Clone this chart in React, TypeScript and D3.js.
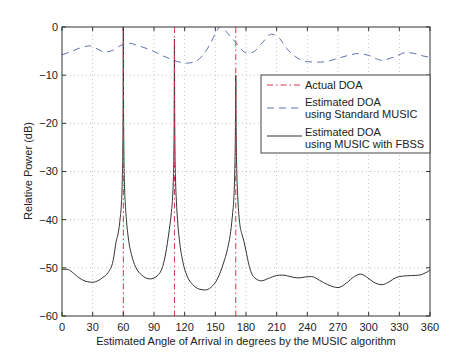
import React from "react";
import * as d3 from "d3";

// Angular spectrum, standard MUSIC (degrees, dB)
const musicAngles = [0, 10, 20, 27, 35, 42, 50, 58, 66, 75, 88, 101, 112, 122, 130, 138, 145, 151, 155, 160, 165, 170, 176, 181, 187, 195, 205, 212, 220, 230, 240, 250, 260, 270, 280, 290, 300, 313, 325, 337, 345, 353, 360];
const musicDb = [-5.8, -5.0, -4.2, -3.9, -4.6, -5.2, -4.8, -3.8, -3.4, -3.9, -4.9, -6.2, -7.1, -7.5, -7.2, -5.8, -3.5, -1.0, 0.1, -0.8, -2.0, -3.2, -4.8, -5.4, -5.2, -3.5, -1.5, -2.2, -4.5, -6.4, -7.2, -7.3, -7.1, -6.5, -5.9, -5.5, -5.9, -6.9, -6.2, -5.3, -5.5, -6.0, -6.3];

// Angular spectrum, MUSIC with forward-backward spatial smoothing (degrees, dB)
const fbssAngles = [0, 5, 10, 15, 20, 25, 30, 35, 40, 45, 50, 53, 55, 57, 58, 59, 59.5, 59.8, 60, 60.2, 60.5, 61, 62, 63, 65, 68, 72, 78, 86, 94, 100, 103, 105, 107, 108, 109, 109.5, 109.8, 110, 110.2, 110.5, 111, 112, 113, 115, 118, 122, 128, 134, 140, 146, 152, 158, 162, 165, 167, 168, 169, 169.5, 169.8, 170, 170.2, 170.5, 171, 172, 174, 176, 178, 180, 183, 188, 195, 202, 210, 216, 223, 231, 238, 244, 252, 260, 270, 278, 286, 292, 298, 305, 313, 320, 327, 334, 342, 350, 355, 360];
const fbssDb = [-50.3, -50.3, -50.9, -51.8, -52.5, -52.9, -53.0, -52.7, -52.0, -51.0, -48.5, -44.5, -42.8, -39.5, -37.0, -31.5, -25, -16, 0, -16, -25, -31.5, -37, -40, -44, -47.3, -49.8, -51.5, -52.3, -51.5, -48.5, -45, -42, -38.5, -36, -31, -25, -16, -2.5, -16, -25, -31, -36.5, -40, -44.5, -48.5, -51.5, -53.5, -54.4, -54.6, -54.0, -52.3, -49, -46, -42.5, -38.5, -36, -30, -24, -17, -10, -17, -24, -30, -35.5, -41, -43, -44.5, -46.5, -49.5, -52.0, -52.7, -52.2, -51.6, -51.5, -51.8, -52.1, -51.9, -51.8, -52.6, -53.5, -54.1, -53.2, -51.8, -51.3, -51.9, -53.0, -53.5, -52.9, -52.0, -51.7, -51.6, -51.5, -51.1, -50.5];

// True directions of arrival (degrees)
const actualDoa = [60, 110, 170];

const xTicks = [0, 30, 60, 90, 120, 150, 180, 210, 240, 270, 300, 330, 360];
const yTicks = [0, -10, -20, -30, -40, -50, -60];

const legendLabels = [["Actual DOA"], ["Estimated DOA", "using Standard MUSIC"], ["Estimated DOA", "using MUSIC with FBSS"]];

const W = 474;
const H = 356;
const left = 62, right = 430, top = 27, bottom = 316;
const FONT = "'Liberation Sans', Arial, Helvetica, sans-serif";
const TEXT = "#222";
const RED = "#d9364a";
const BLUE = "#5f72b3";
const BLACK = "#333";
const RED_DASH = "6,3,1.5,3";
const BLUE_DASH = "7,5";

export default function App() {
  const x = d3.scaleLinear().domain([0, 360]).range([left, right]);
  const y = d3.scaleLinear().domain([-60, 0]).range([bottom, top]);

  const line = d3
    .line<[number, number]>()
    .x((d) => x(d[0]))
    .y((d) => y(d[1]))
    .curve(d3.curveMonotoneX);

  const musicPath = line(musicAngles.map((a, i) => [a, musicDb[i]]) as [number, number][]) || "";
  const fbssPath = line(fbssAngles.map((a, i) => [a, fbssDb[i]]) as [number, number][]) || "";

  const legX = 261, legY = 75, legW = right - 261, legH = 78;
  const sampleX0 = 267, sampleX1 = 302, textX = 305;

  return (
    <svg width={W} height={H} style={{ position: "absolute", left: 0, top: 0, background: "#fff" }} fontFamily={FONT}>
      <defs>
        <clipPath id="plotClip">
          <rect x={left} y={top} width={right - left} height={bottom - top} />
        </clipPath>
      </defs>
      <rect x={0} y={0} width={W} height={H} fill="#fff" />

      {/* grid */}
      <g stroke="#b8b8b8" strokeWidth={0.8} strokeDasharray="1,3">
        {xTicks.slice(1, -1).map((t) => (
          <line key={"gx" + t} x1={x(t)} x2={x(t)} y1={top} y2={bottom} />
        ))}
        {yTicks.slice(1, -1).map((t) => (
          <line key={"gy" + t} x1={left} x2={right} y1={y(t)} y2={y(t)} />
        ))}
      </g>

      <g clipPath="url(#plotClip)">
        <path d={musicPath} fill="none" stroke={BLUE} strokeWidth={1} strokeDasharray={BLUE_DASH} />
        <path d={fbssPath} fill="none" stroke={BLACK} strokeWidth={1} />
        {actualDoa.map((a) => (
          <line key={"doa" + a} x1={x(a)} x2={x(a)} y1={y(0)} y2={y(-60)} stroke={RED} strokeWidth={1} strokeDasharray={RED_DASH} />
        ))}
      </g>

      {/* axes box and ticks */}
      <rect x={left} y={top} width={right - left} height={bottom - top} fill="none" stroke="#333" strokeWidth={1} />
      <g stroke="#333" strokeWidth={1}>
        {xTicks.map((t) => (
          <g key={"tx" + t}>
            <line x1={x(t)} x2={x(t)} y1={bottom} y2={bottom - 4} />
            <line x1={x(t)} x2={x(t)} y1={top} y2={top + 4} />
          </g>
        ))}
        {yTicks.map((t) => (
          <g key={"ty" + t}>
            <line x1={left} x2={left + 4} y1={y(t)} y2={y(t)} />
            <line x1={right} x2={right - 4} y1={y(t)} y2={y(t)} />
          </g>
        ))}
      </g>

      {/* tick labels */}
      <g fontSize={11} fill={TEXT}>
        {xTicks.map((t) => (
          <text key={"lx" + t} x={x(t)} y={331} textAnchor="middle">
            {t}
          </text>
        ))}
        {yTicks.map((t) => (
          <text key={"ly" + t} x={58} y={y(t)} dy="0.35em" textAnchor="end">
            {t < 0 ? "\u2212" + Math.abs(t) : String(t)}
          </text>
        ))}
      </g>

      {/* axis titles */}
      <text x={(left + right) / 2 - 0} y={345} textAnchor="middle" fontSize={11} fill={TEXT}>
        Estimated Angle of Arrival in degrees by the MUSIC algorithm
      </text>
      <text transform={`translate(32,171) rotate(-90)`} textAnchor="middle" fontSize={11} fill={TEXT}>
        Relative Power (dB)
      </text>

      {/* legend */}
      <rect x={legX} y={legY} width={legW} height={legH} fill="#fff" stroke="#444" strokeWidth={1} />
      <line x1={sampleX0} x2={sampleX1} y1={85} y2={85} stroke={RED} strokeWidth={1} strokeDasharray={RED_DASH} />
      <line x1={sampleX0} x2={sampleX1} y1={108} y2={108} stroke={BLUE} strokeWidth={1} strokeDasharray={BLUE_DASH} />
      <line x1={sampleX0} x2={sampleX1} y1={136} y2={136} stroke={BLACK} strokeWidth={1} />
      <g fontSize={11} fill={TEXT}>
        <text x={textX} y={89}>{legendLabels[0][0]}</text>
        <text x={textX} y={105.5}>{legendLabels[1][0]}</text>
        <text x={textX} y={117.5}>{legendLabels[1][1]}</text>
        <text x={textX} y={135.5}>{legendLabels[2][0]}</text>
        <text x={textX} y={147.5}>{legendLabels[2][1]}</text>
      </g>
    </svg>
  );
}
